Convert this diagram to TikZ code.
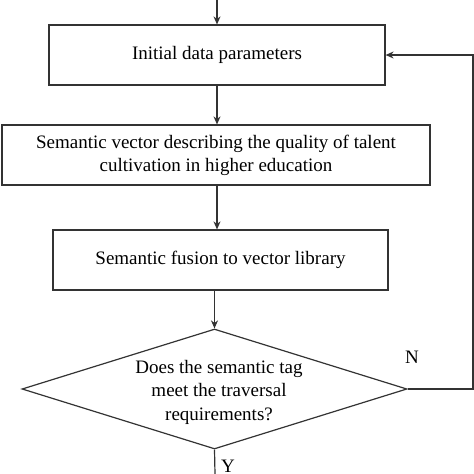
\documentclass[tikz,border=0pt]{standalone}
\usepackage{fontspec}
\setmainfont{Liberation Serif}
\usetikzlibrary{arrows.meta,shapes.geometric}
\begin{document}
\begin{tikzpicture}[x=1pt,y=-1pt,
  line/.style={draw=black!80,line width=1.2pt},
  arr/.style={line,-{Stealth[length=8pt,width=7pt]}},
  boxn/.style={line,rectangle,inner sep=0pt,align=center,font=\fontsize{19}{23}\selectfont},
  txt/.style={align=center,inner sep=0pt,font=\fontsize{19}{23.5}\selectfont},
]
\useasboundingbox[fill=white] (0,0) rectangle (474,474);
\node[boxn,minimum width=336pt,minimum height=60pt] (b1) at (217,55) {Initial data parameters};
\node[boxn,minimum width=428pt,minimum height=60pt] (b2) at (216,155) {Semantic vector describing the quality of talent\\cultivation in higher education};
\node[boxn,minimum width=335pt,minimum height=60pt] (b3) at (220.5,260) {Semantic fusion to vector library};
\node[line,diamond,inner sep=0pt,minimum width=385pt,minimum height=120pt,shape aspect=3.2] (d) at (214.5,389) {};
\node[txt] (dt) at (219,392) {Does the semantic tag\\meet the traversal\\requirements?};
\coordinate (top) at (217,0);
\coordinate (bot) at (215,474);
\coordinate (r1) at (473,389);
\coordinate (r2) at (473,55);
\draw[arr] (top) -- (b1.north -| top);
\draw[arr] (b1.south -| top) -- (b2.north -| top);
\draw[arr] (b2.south -| top) -- (b3.north -| top);
\draw[arr] (b3.south -| d.north) -- (d.north);
\draw[line] (d.south) -- (bot);
\draw[arr] (d.east) -- (r1) -- (r2) -- (b1.east);
\node[txt] (n) at (412,357) {N};
\node[txt] (y) at (228,466.5) {Y};
\end{tikzpicture}
\end{document}
